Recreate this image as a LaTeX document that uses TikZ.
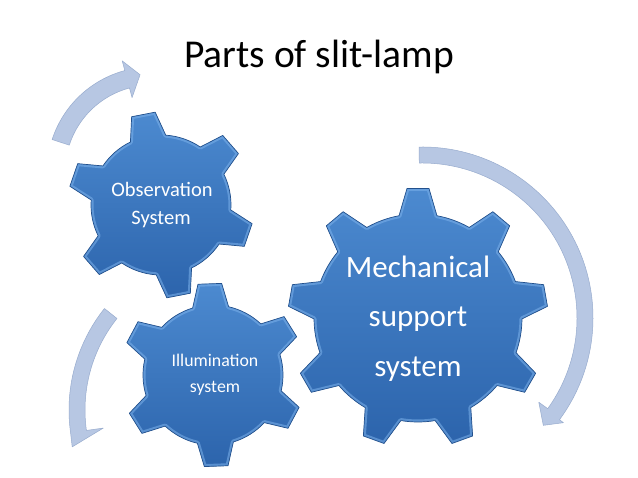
\documentclass[tikz,border=0pt]{standalone}
\usepackage{fontspec}
\setmainfont{Carlito}
\definecolor{gearT}{RGB}{76,138,208}
\definecolor{gearB}{RGB}{44,100,172}
\definecolor{gearEdge}{RGB}{34,80,140}
\definecolor{gearRim}{RGB}{125,178,235}
\definecolor{arrowF}{RGB}{183,199,227}
\definecolor{arrowE}{RGB}{152,172,206}
\newcommand\gearpath[6]{({#2-#5}:#3pt) \foreach \k in {1,...,#1}{ -- ({#2+360*(\k-1)/#1-#6}:#4pt) -- ({#2+360*(\k-1)/#1+#6}:#4pt) -- ({#2+360*(\k-1)/#1+#5}:#3pt) arc[start angle={#2+360*(\k-1)/#1+#5}, end angle={#2+360*\k/#1-#5}, radius=#3pt]} -- cycle}
\newcommand\drawgear[8]{%
  \begin{scope}[shift={(#1,#2)}]
    \shade[top color=gearT, bottom color=gearB] \gearpath{#3}{#4}{#5}{#6}{#7}{#8};
    \begin{scope}
      \clip \gearpath{#3}{#4}{#5}{#6}{#7}{#8};
      \draw[gearRim, line width=5pt, opacity=0.55, line join=round] \gearpath{#3}{#4}{#5}{#6}{#7}{#8};
    \end{scope}
    \draw[gearEdge, line width=0.7pt, line join=round] \gearpath{#3}{#4}{#5}{#6}{#7}{#8};
  \end{scope}}
\tikzset{
  arrowsty/.style={fill=arrowF, draw=arrowE, line width=0.5pt, line join=round},
  geartext/.style={text=white, anchor=base, inner sep=0pt},
}
\begin{document}
\begin{tikzpicture}[x=1pt, y=1pt]
\useasboundingbox (0,0) rectangle (638,478);
\fill[white] (0,0) rectangle (638,478);

% circular arrows
\begin{scope}[shift={(422,160)}]
  \path[arrowsty] (91:171pt) arc[start angle=91, end angle=-36.5, radius=171pt] -- (-36.5:176pt) -- (-41.5:162pt) -- (-35.8:144pt) -- (-35.8:155pt) arc[start angle=-35.8, end angle=91, radius=155pt] -- cycle;
\end{scope}
\begin{scope}[shift={(152,306)}]
  \path[arrowsty] (162:105pt) arc[start angle=162, end angle=105, radius=105pt] -- (105:115pt) -- (97:98pt) -- (105:77pt) -- (105:87pt) arc[start angle=105, end angle=162, radius=87pt] -- cycle;
\end{scope}
\begin{scope}[shift={(232,68)}]
  \path[arrowsty] (141.5:163pt) arc[start angle=141.5, end angle=188, radius=163pt] -- (193:164pt) -- (188:130pt) -- (188:147pt) arc[start angle=188, end angle=141.5, radius=147pt] -- cycle;
\end{scope}

% gears
\drawgear{418}{160}{9}{90}{104}{130}{10.5}{4.85}
\drawgear{161}{273}{6}{101}{70}{93}{14.9}{7.4}
\drawgear{213}{103}{6}{92}{70}{92}{14.9}{7.4}

% texts
\node[anchor=base, inner sep=0pt, font=\fontsize{39.5}{47}\selectfont] (title) at (319,410) {Parts of slit-lamp};

\node[geartext, font=\fontsize{31}{37}\selectfont] (mech1) at (418,200) {Mechanical};
\node[geartext, font=\fontsize{31}{37}\selectfont] (mech2) at (418,151) {support};
\node[geartext, font=\fontsize{31}{37}\selectfont] (mech3) at (418,101) {system};

\node[geartext, font=\fontsize{20.5}{25}\selectfont] (obs1) at (162,281) {Observation};
\node[geartext, font=\fontsize{20.5}{25}\selectfont] (obs2) at (161,253) {System};

\node[geartext, font=\fontsize{17.8}{22}\selectfont] (ill1) at (215,111) {Illumination};
\node[geartext, font=\fontsize{17.8}{22}\selectfont] (ill2) at (215,85) {system};
\end{tikzpicture}
\end{document}
